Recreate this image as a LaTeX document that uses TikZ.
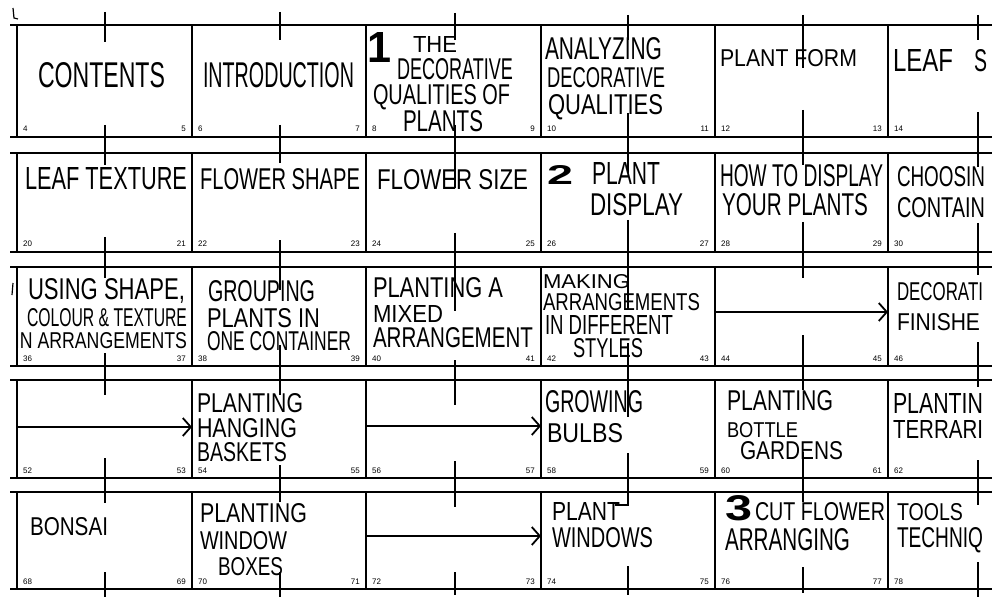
\documentclass[tikz,border=0pt]{standalone}
\usepackage{fontspec}
\setmainfont{Liberation Sans}
\usepackage{graphicx}
\usetikzlibrary{arrows.meta}
\newcommand\handln[6]{\node[hand] (#1) at (#2,#3) {\resizebox{#4pt}{#5pt}{#6}};}
\tikzset{
  hand/.style={anchor=base west, inner sep=0pt, outer sep=0pt},
  cell/.style={draw, line width=1.8pt, rectangle, inner sep=0pt, outer sep=0pt},
  rulex/.style={line width=2.4pt},
  gut/.style={line width=2.1pt},
  flow/.style={line width=1.8pt, -{Straight Barb[length=8pt,width=18pt]}},
  pg/.style={font=\fontsize{8}{9}\selectfont, inner sep=0pt},
  straymark/.style={line width=1.2pt}
}
\begin{document}
\begin{tikzpicture}[x=1pt,y=-1pt]
\useasboundingbox (0,0) rectangle (992,612);
\clip (0,0) rectangle (992,612);
\fill[white] (0,0) rectangle (992,612);
% cells, page numbers, row rules
\foreach \rw/\t/\b in {1/25/137,2/153/252,3/267/366,4/380/478,5/492/589}{
  \foreach \cc/\l/\rr in {1/17/192,2/192/366,3/366/541,4/541/715,5/715/888,6/888/1062}{
    \node[cell, minimum width={(\rr-\l)*1pt}, minimum height={(\b-\t)*1pt}] (c\rw\cc) at ({(\l+\rr)/2},{(\t+\b)/2}) {};
    \pgfmathtruncatemacro\pgL{4+16*(\rw-1)+2*(\cc-1)}
    \pgfmathtruncatemacro\pgR{\pgL+1}
    \node[pg, anchor=base west] (pl\rw\cc) at ({\l+6},{\b-5}) {\pgL};
    \ifnum\cc<6
      \node[pg, anchor=base east] (pr\rw\cc) at ({\rr-6},{\b-5}) {\pgR};
    \fi
  }
  \draw[rulex] (10,\t) -- (992,\t);
  \draw[rulex] (10,\b) -- (992,\b);
}
% gutter ticks
\draw[gut] (105,12)--(105,42) (105,125)--(105,165) (105,237)--(105,278) (105,353)--(105,395) (105,458)--(105,503) (105,572)--(105,597);
\draw[gut] (280,12)--(280,40) (280,125)--(280,163) (280,240)--(280,290) (280,345)--(280,395) (280,465)--(280,502) (280,572)--(280,597);
\draw[gut] (455,13)--(455,40) (455,125)--(455,188) (455,233)--(455,311) (455,360)--(455,405) (455,461)--(455,507) (455,572)--(455,595);
\draw[gut] (628,15)--(628,40) (628,113)--(628,173) (628,220)--(628,310) (628,343)--(628,417) (615,505)--(628,505)--(628,453) (628,566)--(628,595);
\draw[gut] (803,15)--(803,68) (803,110)--(803,165) (803,222)--(803,278) (803,335)--(803,390) (803,452)--(803,502) (803,567)--(803,593);
\draw[gut] (978,15)--(978,40) (978,112)--(978,167) (978,223)--(978,275) (978,342)--(978,387) (978,460)--(978,505) (978,562)--(978,597);
% stray marks
\draw[straymark] (13,8) -- (14,18) -- (18,19);
\draw[straymark] (13,283) -- (12,295);
% arrows
\draw[flow] ([yshift=4.5pt]c35.west) -- ([yshift=4.5pt]c35.east);
\draw[flow] ([yshift=2pt]c41.west) -- ([yshift=2pt]c41.east);
\draw[flow] ([yshift=3pt]c43.west) -- ([yshift=3pt]c43.east);
\draw[flow] ([yshift=4.5pt]c53.west) -- ([yshift=4.5pt]c53.east);
% row 1
\handln{t11}{38}{88}{127}{25}{CONTENTS}
\handln{t12}{203}{88}{151}{25}{INTRODUCTION}
\handln{t13n}{367}{63}{24}{30}{\bfseries 1}
\handln{t13a}{413}{53}{44}{16}{THE}
\handln{t13b}{397}{80}{116}{21}{DECORATIVE}
\handln{t13c}{373}{105}{137}{20}{QUALITIES OF}
\handln{t13d}{403}{132}{80}{21}{PLANTS}
\handln{t14a}{545}{60}{117}{22}{ANALYZING}
\handln{t14b}{547}{88}{118}{20}{DECORATIVE}
\handln{t14c}{548}{115}{115}{20}{QUALITIES}
\handln{t15}{720}{67}{137}{17}{PLANT FORM}
\handln{t16a}{893}{72}{60}{22}{LEAF}
\handln{t16b}{974}{72}{13}{22}{S}
% row 2
\handln{t21}{25}{190}{162}{22}{LEAF TEXTURE}
\handln{t22}{200}{190}{160}{21}{FLOWER SHAPE}
\handln{t23}{377}{190}{151}{20}{FLOWER SIZE}
\handln{t24n}{547}{185}{26}{19}{\bfseries 2}
\handln{t24a}{592}{185}{68}{22}{PLANT}
\handln{t24b}{590}{215}{93}{22}{DISPLAY}
\handln{t25a}{720}{187}{163}{22}{HOW TO DISPLAY}
\handln{t25b}{722}{215}{146}{22}{YOUR PLANTS}
\handln{t26a}{897}{187}{88}{20}{CHOOSIN}
\handln{t26b}{897}{218}{88}{20}{CONTAIN}
% row 3
\handln{t31a}{28}{299}{157}{21}{USING SHAPE,}
\handln{t31b}{27}{326}{160}{18}{COLOUR \& TEXTURE}
\handln{t31c}{15}{348}{172}{16}{IN ARRANGEMENTS}
\handln{t32a}{208}{301}{107}{21}{GROUPING}
\handln{t32b}{207}{327}{113}{19}{PLANTS IN}
\handln{t32c}{207}{350}{144}{19}{ONE CONTAINER}
\handln{t33a}{373}{297}{130}{20}{PLANTING A}
\handln{t33b}{373}{322}{70}{17}{MIXED}
\handln{t33c}{373}{347}{160}{20}{ARRANGEMENT}
\handln{t34a}{543}{288}{87}{14}{MAKING}
\handln{t34b}{543}{310}{157}{17}{ARRANGEMENTS}
\handln{t34c}{545}{334}{128}{19}{IN DIFFERENT}
\handln{t34d}{573}{357}{70}{19}{STYLES}
\handln{t36a}{897}{300}{86}{18}{DECORATI}
\handln{t36b}{897}{330}{83}{17}{FINISHE}
% row 4
\handln{t42a}{197}{412}{106}{19}{PLANTING}
\handln{t42b}{197}{437}{100}{19}{HANGING}
\handln{t42c}{197}{461}{90}{19}{BASKETS}
\handln{t44a}{545}{412}{98}{22}{GROWING}
\handln{t44b}{547}{442}{76}{19}{BULBS}
\handln{t45a}{727}{410}{106}{20}{PLANTING}
\handln{t45b}{727}{437}{71}{15}{BOTTLE}
\handln{t45c}{740}{459}{103}{18}{GARDENS}
\handln{t46a}{893}{413}{90}{20}{PLANTIN}
\handln{t46b}{893}{438}{90}{18}{TERRARI}
% row 5
\handln{t51}{30}{535}{78}{18}{BONSAI}
\handln{t52a}{200}{522}{107}{19}{PLANTING}
\handln{t52b}{200}{549}{87}{18}{WINDOW}
\handln{t52c}{218}{575}{65}{18}{BOXES}
\handln{t54a}{552}{520}{68}{18}{PLANT}
\handln{t54b}{552}{547}{101}{20}{WINDOWS}
\handln{t55n}{725}{520}{27}{25}{\bfseries 3}
\handln{t55a}{755}{520}{130}{18}{CUT FLOWER}
\handln{t55b}{725}{550}{125}{22}{ARRANGING}
\handln{t56a}{897}{520}{66}{17}{TOOLS}
\handln{t56b}{897}{547}{86}{20}{TECHNIQ}
\end{tikzpicture}
\end{document}
